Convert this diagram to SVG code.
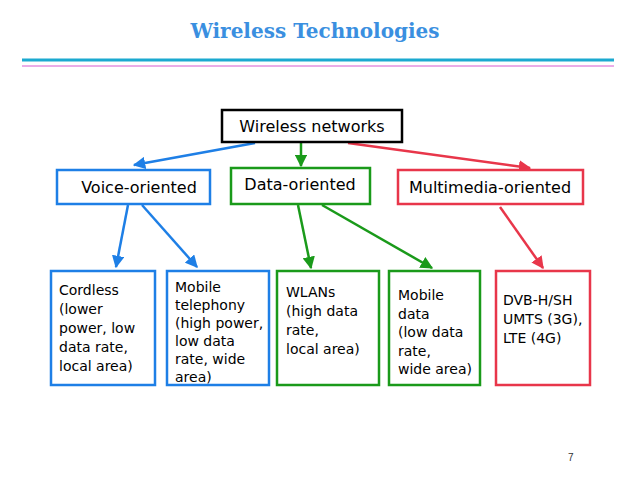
<svg xmlns="http://www.w3.org/2000/svg" width="638" height="478" viewBox="0 0 638 478">
<defs>
<style>
.t{font-family:"DejaVu Sans","Liberation Sans",sans-serif;font-size:16px;fill:#000}
.s{font-family:"DejaVu Sans","Liberation Sans",sans-serif;font-size:14px;fill:#000}
.b{fill:#fff;stroke-width:2.5}
</style>
<marker id="mb" viewBox="0 0 10 10" refX="9" refY="5" markerWidth="5" markerHeight="5" orient="auto"><path d="M0,0L10,5L0,10z" fill="#1e7fe6"/></marker>
<marker id="mg" viewBox="0 0 10 10" refX="9" refY="5" markerWidth="5" markerHeight="5" orient="auto"><path d="M0,0L10,5L0,10z" fill="#1a9a1a"/></marker>
<marker id="mr" viewBox="0 0 10 10" refX="9" refY="5" markerWidth="5" markerHeight="5" orient="auto"><path d="M0,0L10,5L0,10z" fill="#e8364a"/></marker>
</defs>
<rect width="638" height="478" fill="#fff"/>
<text x="315" y="38" text-anchor="middle" font-family="DejaVu Serif,serif" font-weight="bold" font-size="20" fill="#3a8fe0">Wireless Technologies</text>
<line x1="22" y1="60" x2="614" y2="60" stroke="#1ba9d0" stroke-width="3"/>
<line x1="22" y1="66" x2="614" y2="66" stroke="#d65ad0" stroke-width="1"/>
<g id="connectors" stroke-width="2.5" fill="none">
<line x1="255" y1="143" x2="134" y2="165" stroke="#1e7fe6" marker-end="url(#mb)"/>
<line x1="301" y1="143" x2="301" y2="166" stroke="#1a9a1a" marker-end="url(#mg)"/>
<line x1="348" y1="143" x2="530" y2="168" stroke="#e8364a" marker-end="url(#mr)"/>
<line x1="128" y1="205" x2="116" y2="267" stroke="#1e7fe6" marker-end="url(#mb)"/>
<line x1="142" y1="205" x2="197" y2="267" stroke="#1e7fe6" marker-end="url(#mb)"/>
<line x1="298" y1="205" x2="311" y2="268" stroke="#1a9a1a" marker-end="url(#mg)"/>
<line x1="322" y1="205" x2="432" y2="268" stroke="#1a9a1a" marker-end="url(#mg)"/>
<line x1="500" y1="207" x2="543" y2="268" stroke="#e8364a" marker-end="url(#mr)"/>
</g>
<g id="root"><rect class="b" x="222" y="110" width="180" height="32" stroke="#000"/><text class="t" x="312" y="132" text-anchor="middle">Wireless networks</text></g>
<g id="voice"><rect class="b" x="57" y="170" width="153" height="34" stroke="#1e7fe6"/><text class="t" x="139" y="193" text-anchor="middle">Voice-oriented</text></g>
<g id="data"><rect class="b" x="231" y="168" width="139" height="36" stroke="#1a9a1a"/><text class="t" x="300" y="190" text-anchor="middle">Data-oriented</text></g>
<g id="multi"><rect class="b" x="398" y="170" width="185" height="34" stroke="#e8364a"/><text class="t" x="490" y="193" text-anchor="middle">Multimedia-oriented</text></g>
<g id="cordless"><rect class="b" x="51" y="271" width="104" height="114" stroke="#1e7fe6"/><text class="s" x="59" y="295">Cordless<tspan x="59" dy="19">(lower</tspan><tspan x="59" dy="19">power, low</tspan><tspan x="59" dy="19">data rate,</tspan><tspan x="59" dy="19">local area)</tspan></text></g>
<g id="mobtel"><rect class="b" x="167" y="271" width="102" height="114" stroke="#1e7fe6"/><text class="s" x="175" y="292">Mobile<tspan x="175" dy="18">telephony</tspan><tspan x="175" dy="18">(high power,</tspan><tspan x="175" dy="18">low data</tspan><tspan x="175" dy="18">rate, wide</tspan><tspan x="175" dy="18">area)</tspan></text></g>
<g id="wlan"><rect class="b" x="277" y="271" width="102" height="114" stroke="#1a9a1a"/><text class="s" x="286" y="297">WLANs<tspan x="286" dy="19">(high data</tspan><tspan x="286" dy="19">rate,</tspan><tspan x="286" dy="19">local area)</tspan></text></g>
<g id="mobdata"><rect class="b" x="389" y="271" width="91" height="114" stroke="#1a9a1a"/><text class="s" x="398" y="300">Mobile<tspan x="398" dy="18.5">data</tspan><tspan x="398" dy="18.5">(low data</tspan><tspan x="398" dy="18.5">rate,</tspan><tspan x="398" dy="18.5">wide area)</tspan></text></g>
<g id="dvb"><rect class="b" x="496" y="271" width="94" height="114" stroke="#e8364a"/><text class="s" x="503" y="305">DVB-H/SH<tspan x="503" dy="19">UMTS (3G),</tspan><tspan x="503" dy="19">LTE (4G)</tspan></text></g>
<text x="568" y="461" font-family="Liberation Sans,sans-serif" font-size="10" fill="#333">7</text>
</svg>
